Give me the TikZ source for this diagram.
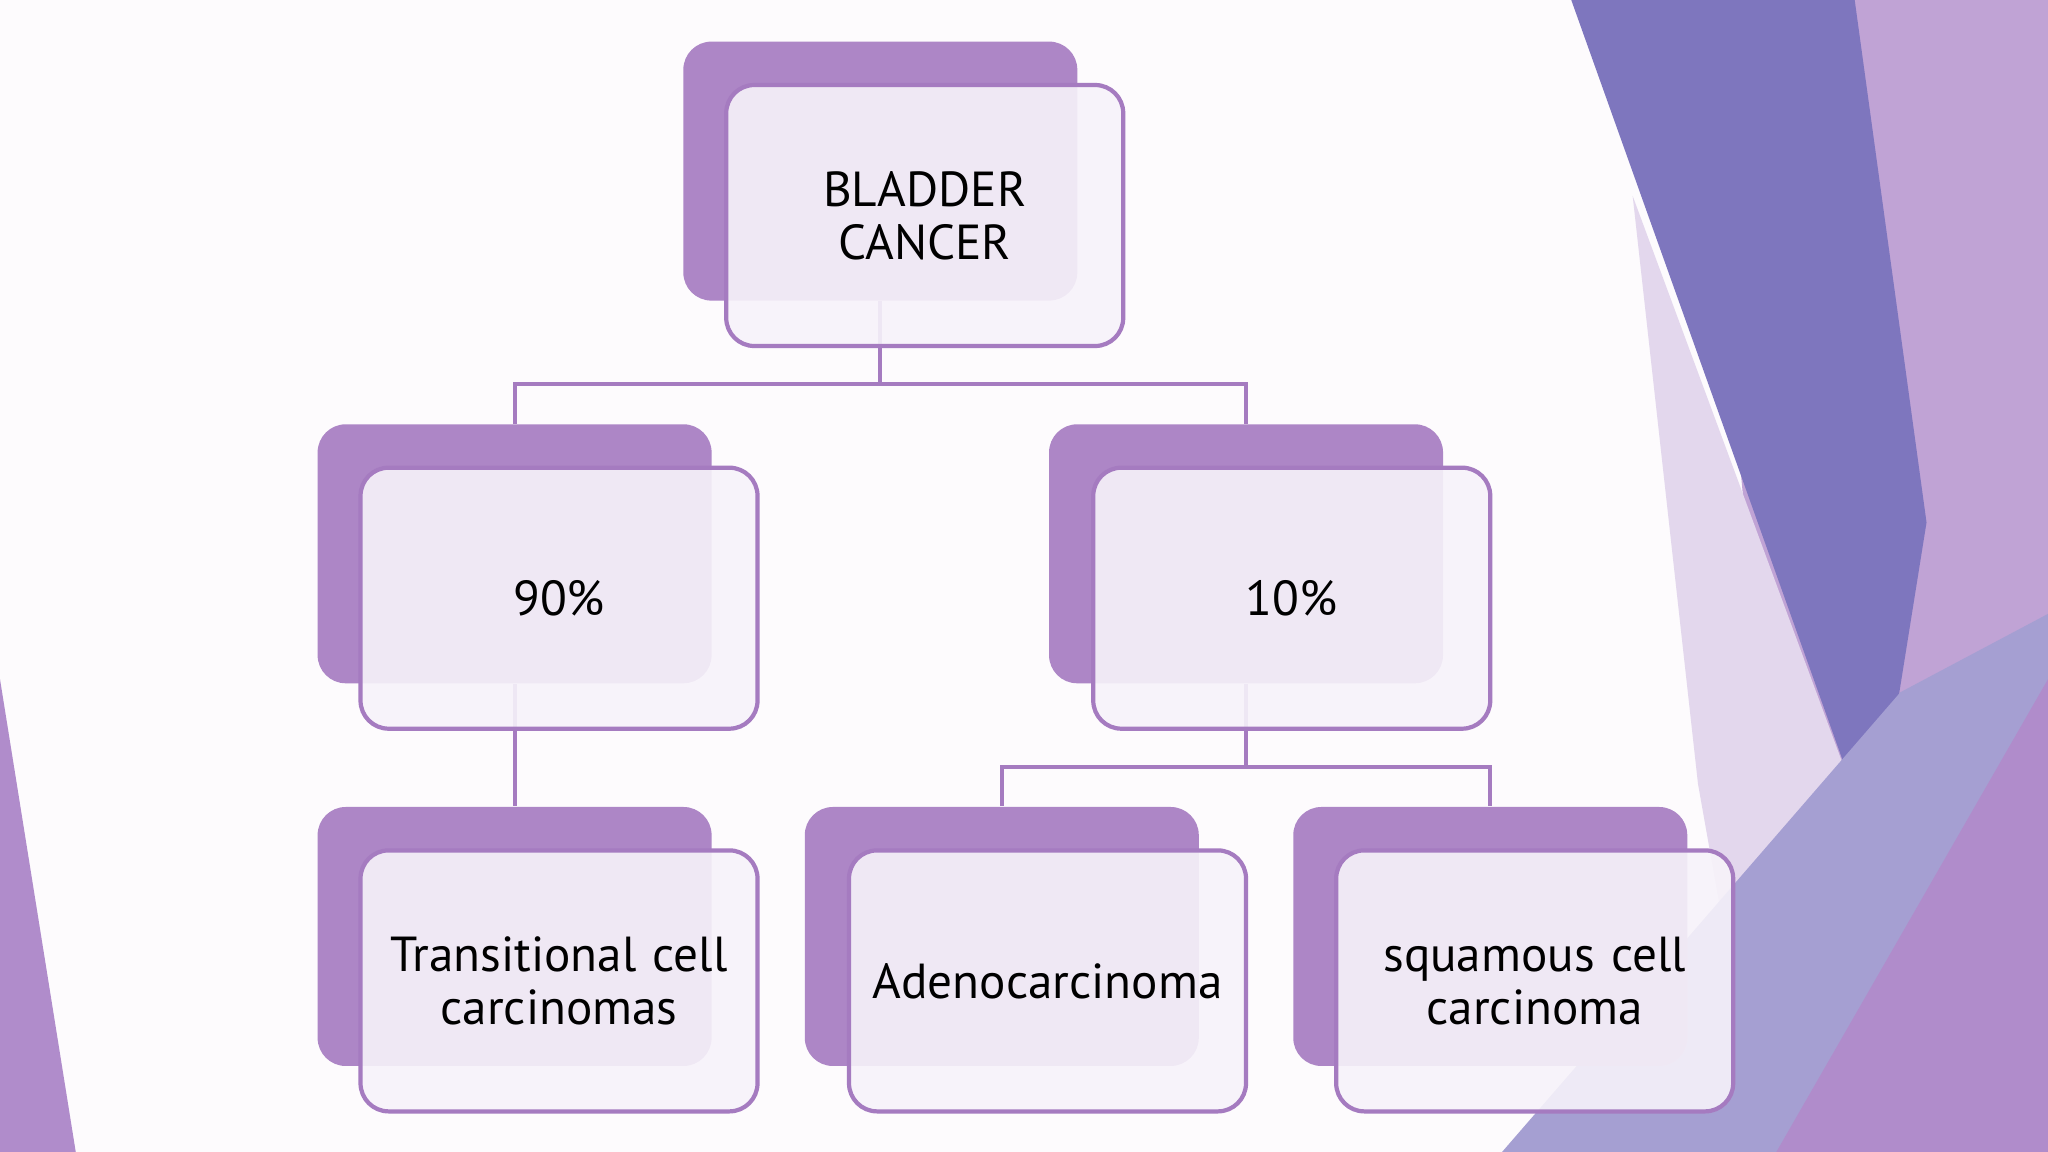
\documentclass[tikz,border=0pt]{standalone}
\usepackage{fontspec}
\setmainfont{PT Sans}
\usetikzlibrary{positioning}
\definecolor{backpurple}{HTML}{AD86C6}
\definecolor{edgepurple}{HTML}{A57BC0}
\definecolor{frontfill}{HTML}{F7F3FA}
\definecolor{bluepurple}{HTML}{7E76BE}
\definecolor{lilac}{HTML}{B08CCB}
\tikzstyle{back} = [rectangle, fill=backpurple, rounded corners=8pt, minimum width=3.94cm, minimum height=2.59cm, inner sep=0pt]
\tikzstyle{front} = [rectangle, draw=edgepurple, line width=1.2pt, fill=frontfill, fill opacity=0.9, text opacity=1, rounded corners=8pt, minimum width=3.97cm, minimum height=2.61cm, inner sep=0pt, text width=3.9cm, align=center, font=\fontsize{14}{15}\selectfont]
\tikzstyle{link} = [draw=edgepurple, line width=1.2pt]

\begin{document}
\begin{tikzpicture}[x=0.01306cm, y=-0.01306cm]
   % background
   \fill[white!97!lilac] (0,0) rectangle (1568,882);
   \useasboundingbox (0,0) rectangle (1568,882);
   \fill[lilac!80] (1300,0) -- (1568,0) -- (1568,882) -- (1380,882) -- cycle;
   \fill[bluepurple] (1203,0) -- (1420,0) -- (1475,400) -- (1435,650) -- cycle;
   \fill[lilac!35] (1250,150) -- (1435,650) -- (1350,882) -- (1300,600) -- cycle;
   \fill[bluepurple!70] (1150,882) -- (1455,530) -- (1568,470) -- (1568,882) -- cycle;
   \fill[lilac] (1360,882) -- (1568,520) -- (1568,882) -- cycle;
   \fill[lilac] (0,520) -- (58,882) -- (0,882) -- cycle;

   % back boxes
   \node[back] (topb) at (674,131) {};
   \node[back] (ninetyb) at (394,424) {};
   \node[back] (tenb) at (954,424) {};
   \node[back] (transb) at (394,717) {};
   \node[back] (adenob) at (767,717) {};
   \node[back] (squamb) at (1141,717) {};

   % links
   \coordinate (j1) at (674,294);
   \coordinate (j2) at (954,587);
   \draw[link] (topb.south) -- (j1) -| (ninetyb.north);
   \draw[link] (j1) -| (tenb.north);
   \draw[link] (ninetyb.south) -- (transb.north);
   \draw[link] (tenb.south) -- (j2) -| (adenob.north);
   \draw[link] (j2) -| (squamb.north);

   % front boxes
   \node[front] (top) at (708,165) {BLADDER\\CANCER};
   \node[front] (ninety) at (428,458) {90\%};
   \node[front] (ten) at (989,458) {10\%};
   \node[front] (trans) at (428,751) {Transitional cell\\carcinomas};
   \node[front] (adeno) at (802,751) {Adenocarcinoma};
   \node[front] (squam) at (1175,751) {squamous cell\\carcinoma};
\end{tikzpicture}
\end{document}
